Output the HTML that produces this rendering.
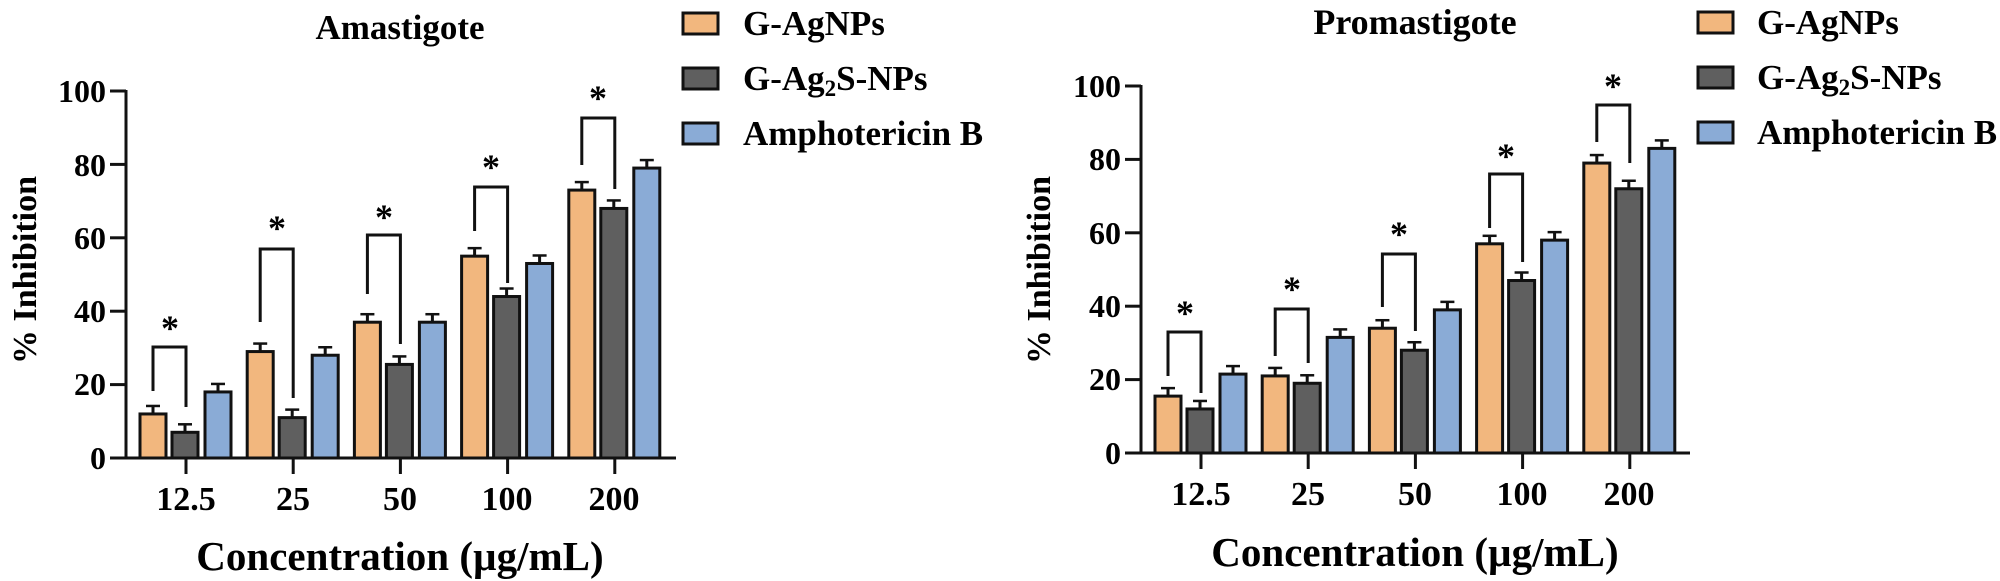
<!DOCTYPE html>
<html><head><meta charset="utf-8"><style>
html,body{margin:0;padding:0;background:#fff;}
svg{display:block;}
text{font-family:"Liberation Serif",serif;font-weight:bold;fill:#000;}
</style></head><body>
<svg id="s" width="2000" height="581" viewBox="0 0 2000 581" xmlns="http://www.w3.org/2000/svg">
<rect width="2000" height="581" fill="#fff"/>
<text x="400" y="39" font-size="35" text-anchor="middle">Amastigote</text>
<g font-size="32" text-anchor="end">
<text x="106" y="102">100</text><text x="106" y="176">80</text><text x="106" y="249">60</text><text x="106" y="322">40</text><text x="106" y="395">20</text><text x="106" y="469">0</text>
</g>
<text transform="translate(36,270) rotate(-90)" font-size="34" text-anchor="middle">% Inhibition</text>
<g font-size="34" text-anchor="middle">
<text x="186" y="510">12.5</text><text x="293" y="510">25</text><text x="400" y="510">50</text><text x="507" y="510">100</text><text x="614" y="510">200</text>
</g>
<text x="400" y="570" font-size="41" text-anchor="middle">Concentration (µg/mL)</text>
<rect x="683" y="13" width="35" height="21" fill="#F2B77E" stroke="#111" stroke-width="3"/>
<rect x="683" y="68" width="35" height="21" fill="#5F5F5F" stroke="#111" stroke-width="3"/>
<rect x="683" y="123" width="35" height="21" fill="#8AABD6" stroke="#111" stroke-width="3"/>
<g font-size="35"><text x="743" y="35">G-AgNPs</text><text x="743" y="90">G-Ag<tspan font-size="23" dy="6">2</tspan><tspan dy="-6">S-NPs</tspan></text><text x="743" y="145">Amphotericin B</text></g>
<text x="1415" y="34" font-size="36" text-anchor="middle">Promastigote</text>
<g font-size="32" text-anchor="end">
<text x="1121" y="97">100</text><text x="1121" y="170">80</text><text x="1121" y="244">60</text><text x="1121" y="317">40</text><text x="1121" y="390">20</text><text x="1121" y="464">0</text>
</g>
<text transform="translate(1050,270) rotate(-90)" font-size="34" text-anchor="middle">% Inhibition</text>
<g font-size="34" text-anchor="middle">
<text x="1201" y="505">12.5</text><text x="1308" y="505">25</text><text x="1415" y="505">50</text><text x="1522" y="505">100</text><text x="1629" y="505">200</text>
</g>
<text x="1415" y="566" font-size="41" text-anchor="middle">Concentration (µg/mL)</text>
<rect x="1698" y="12" width="35" height="21" fill="#F2B77E" stroke="#111" stroke-width="3"/>
<rect x="1698" y="67" width="35" height="21" fill="#5F5F5F" stroke="#111" stroke-width="3"/>
<rect x="1698" y="122" width="35" height="21" fill="#8AABD6" stroke="#111" stroke-width="3"/>
<g font-size="35"><text x="1757" y="34">G-AgNPs</text><text x="1757" y="89">G-Ag<tspan font-size="23" dy="6">2</tspan><tspan dy="-6">S-NPs</tspan></text><text x="1757" y="144">Amphotericin B</text></g>
<g font-size="36" text-anchor="middle">
<text x="170" y="340">*</text><text x="277" y="240">*</text><text x="384" y="229">*</text><text x="491" y="179">*</text><text x="598" y="110">*</text>
<text x="1185" y="325">*</text><text x="1292" y="301">*</text><text x="1399" y="246">*</text><text x="1506" y="168">*</text><text x="1613" y="98">*</text>
</g>
<g id="g"></g>
</svg>
<script>
(function(){
var g=document.getElementById('g'),h='';
function chart(ax,y0,y100,xend,t0,vals,br){
  var k=(y0-y100)/100;
  var cols=['#F2B77E','#5F5F5F','#8AABD6'],offs=[[-46,-20],[-14,12],[19,45]];
  for(var i=0;i<5;i++){var T=t0+107.2*i;
    for(var s=0;s<3;s++){var v=vals[s][i],yt=y0-v*k,x1=T+offs[s][0],x2=T+offs[s][1],cx=(x1+x2)/2,ye=yt-8;
      h+='<line x1="'+cx+'" y1="'+yt+'" x2="'+cx+'" y2="'+ye+'" stroke="#111" stroke-width="3"/>';
      h+='<line x1="'+(cx-7)+'" y1="'+ye+'" x2="'+(cx+7)+'" y2="'+ye+'" stroke="#111" stroke-width="2.5"/>';
      h+='<rect x="'+x1+'" y="'+yt+'" width="'+(x2-x1)+'" height="'+(y0-yt)+'" fill="'+cols[s]+'" stroke="#111" stroke-width="3"/>';}
    var b=br[i],lx=T-33,rx=T;
    h+='<polyline points="'+lx+','+b[1]+' '+lx+','+b[0]+' '+rx+','+b[0]+' '+rx+','+b[2]+'" fill="none" stroke="#111" stroke-width="3"/>';
    h+='<line x1="'+T+'" y1="'+y0+'" x2="'+T+'" y2="'+(y0+16)+'" stroke="#111" stroke-width="3"/>';
  }
  h+='<line x1="'+ax+'" y1="'+(y100-1)+'" x2="'+ax+'" y2="'+(y0+1.5)+'" stroke="#111" stroke-width="3"/>';
  h+='<line x1="'+(ax-1.5)+'" y1="'+y0+'" x2="'+xend+'" y2="'+y0+'" stroke="#111" stroke-width="3"/>';
  for(var j=0;j<=5;j++){var yy=y100+j*20*k;h+='<line x1="'+(ax-16)+'" y1="'+yy+'" x2="'+ax+'" y2="'+yy+'" stroke="#111" stroke-width="3"/>';}
}
chart(126,458,91,676,186,[[12,29,37,55,73],[7,11,25.5,44,68],[18,28,37,53,79]],
 [[347,391,407],[249,322,398],[235,294,344],[187,231,283],[118,165,189]]);
chart(1141,453,86,1690,1201,[[15.5,21,34,57,79],[12,19,28,47,72],[21.5,31.5,39,58,83]],
 [[332,376,393],[309,356,363],[254,307,331],[174,228,262],[105,142,163]]);
g.innerHTML=h;
})();
</script>
</body></html>
